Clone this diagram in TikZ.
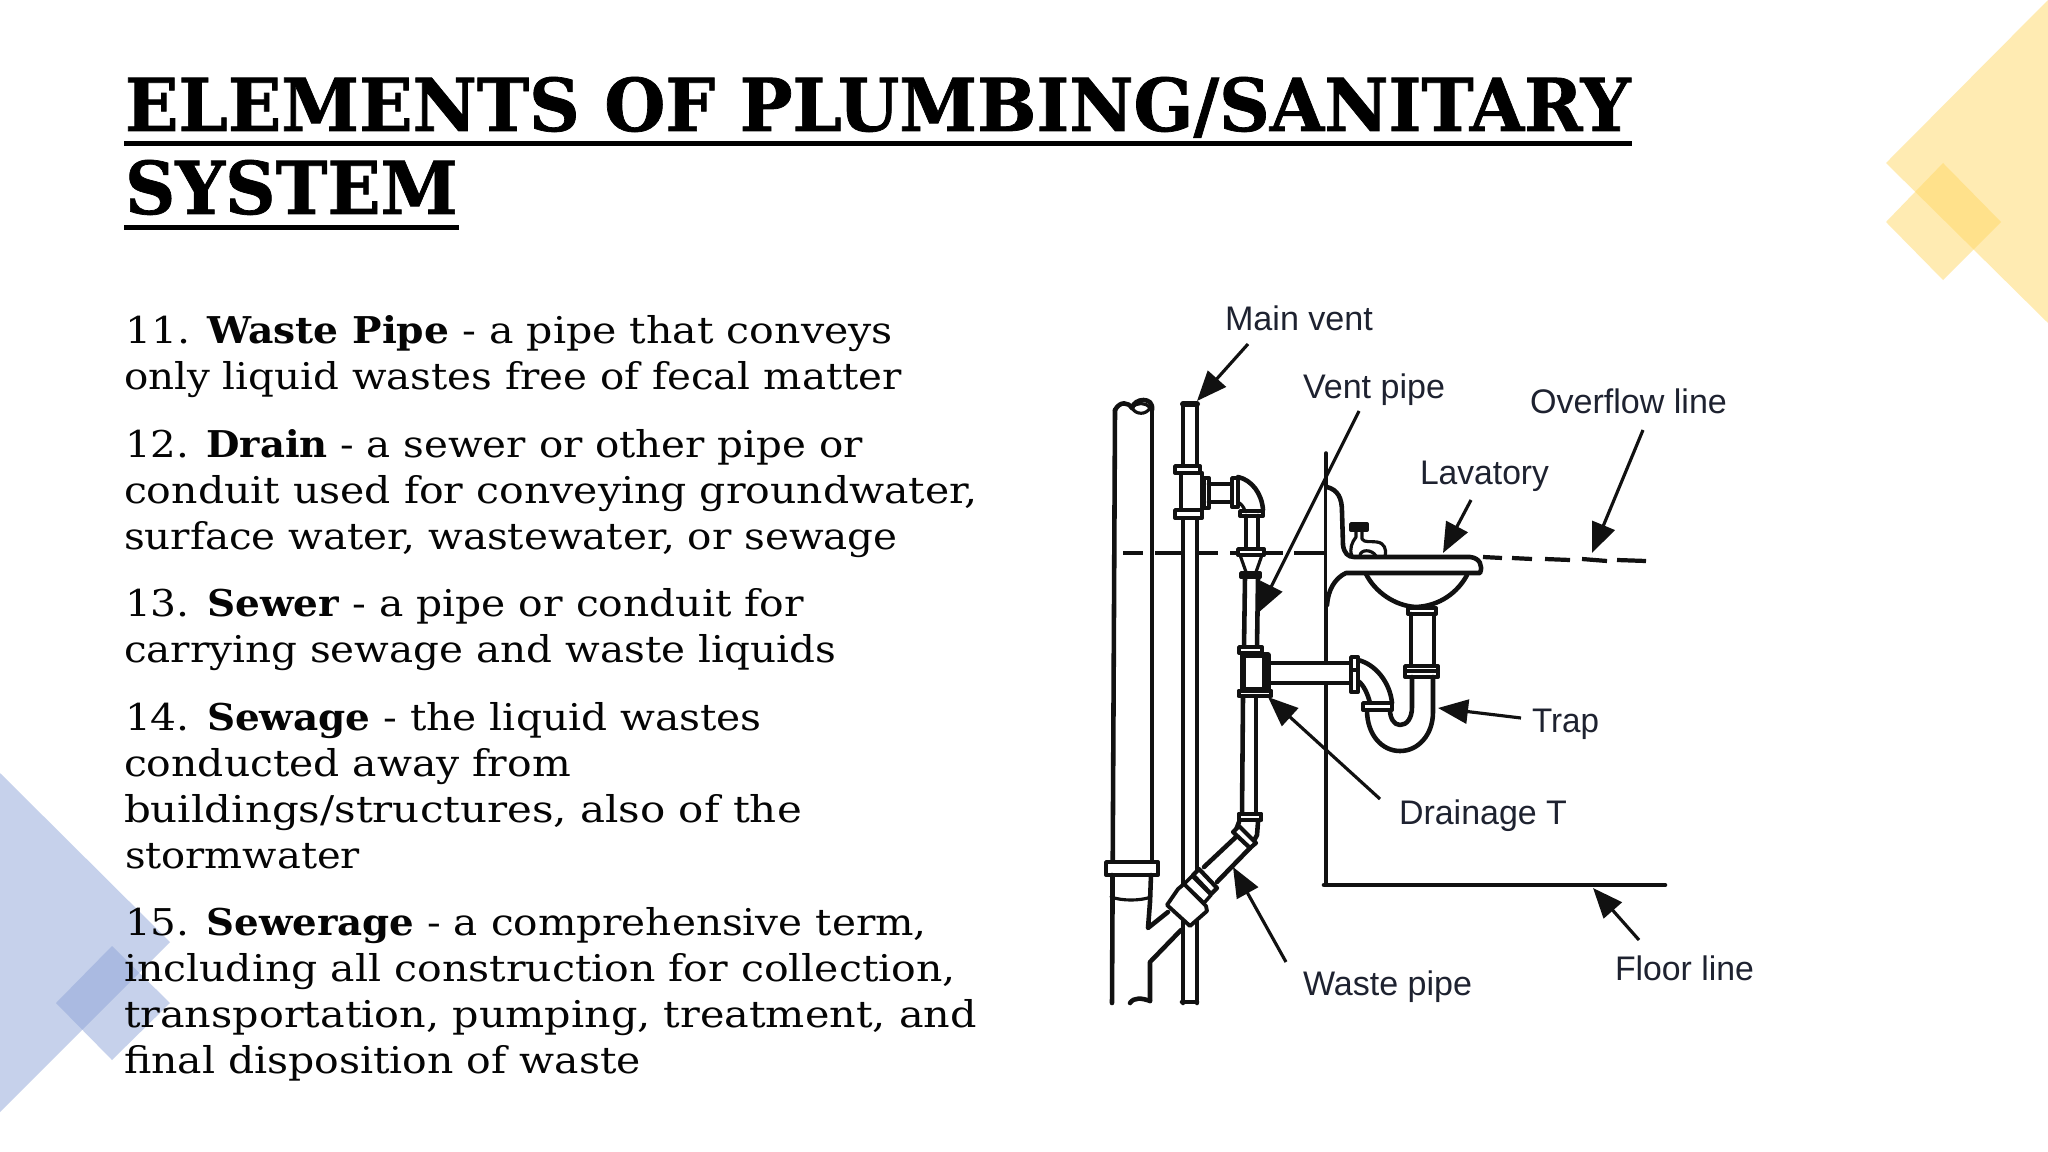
\documentclass[tikz,border=0pt]{standalone}
\usepackage{fontspec}
\usepackage{graphicx}
\usetikzlibrary{arrows.meta}
\setmainfont{DejaVu Serif}
\newfontfamily\lblfont{Liberation Sans}
\newfontfamily\ttlfont[BoldFeatures={FakeBold=1}]{DejaVu Serif}
\definecolor{inkc}{HTML}{111111}
\definecolor{textc}{HTML}{050505}
\definecolor{lblc}{HTML}{1E2230}
\definecolor{yel}{HTML}{FFD966}
\definecolor{blu}{HTML}{8FA5D8}
\newsavebox\fitbox
\newcommand\fitw[2]{\sbox\fitbox{#2}\pgfmathsetmacro\fitr{#1*0.56906/\wd\fitbox}\scalebox{\fitr}[1]{\usebox\fitbox}}
\newcommand\bld[1]{\scalebox{0.955}[1]{\textbf{#1}}}
\tikzset{
  x=0.02cm,y=-0.02cm,
  pipe/.style={line width=1.8pt,draw=inkc,line cap=round,line join=round},
  heavy/.style={line width=2.6pt,draw=inkc,line cap=round,line join=round},
  solid fit/.style={pipe,fill=white},
  bandbox/.style={line width=2.2pt,draw=inkc,fill=white,line join=round},
  ptr/.style={line width=1.8pt,draw=inkc,-{Triangle[length=0.6cm,width=0.48cm,fill=inkc]},shorten >=0pt},
  dashseg/.style={line width=2.4pt,draw=inkc},
  txt/.style={anchor=base west,inner sep=0pt,outer sep=0pt,text=textc,font=\fontsize{21pt}{25pt}\selectfont},
  ttl/.style={anchor=base west,inner sep=0pt,outer sep=0pt,text=black,font=\fontsize{41.5pt}{48pt}\selectfont\ttlfont\bfseries},
  lbl/.style={anchor=base west,inner sep=0pt,outer sep=0pt,text=lblc,font=\fontsize{19.4pt}{23pt}\selectfont\lblfont},
  deco/.style={fill opacity=0.5,draw=none},
}
\begin{document}
\begin{tikzpicture}
\useasboundingbox (0,0) rectangle (2048,1152);
\fill[white] (0,0) rectangle (2048,1152);
% decoration
\fill[yel,deco] (2048,0) -- (1886,163) -- (2048,323) -- cycle;
\fill[yel,deco] (1886,222) -- (1943,163) -- (2001,222) -- (1943,280) -- cycle;
\fill[blu,deco] (0,773) -- (170,942) -- (0,1112) -- cycle;
\fill[blu,deco] (56,1003) -- (112,946) -- (170,1003) -- (112,1060) -- cycle;
% title
\node[ttl] (t1) at (125,131) {\fitw{1506}{ELEMENTS OF PLUMBING/SANITARY}};
\node[ttl] (t2) at (125,214) {\fitw{333}{SYSTEM}};
\fill[black] (124,141) rectangle (1632,146);
\fill[black] (124,225) rectangle (459,230);
% body
\node[txt] (b1) at (125,343) {\fitw{768}{11. \bld{Waste Pipe} - a pipe that conveys}};
\node[txt] (b2) at (124,389) {\fitw{778}{only liquid wastes free of fecal matter}};
\node[txt] (b3) at (125,457) {\fitw{738}{12. \bld{Drain} - a sewer or other pipe or}};
\node[txt] (b4) at (124,503) {\fitw{854}{conduit used for conveying groundwater,}};
\node[txt] (b5) at (124,549) {\fitw{774}{surface water, wastewater, or sewage}};
\node[txt] (b6) at (125,616) {\fitw{679}{13. \bld{Sewer} - a pipe or conduit for}};
\node[txt] (b7) at (124,662) {\fitw{712}{carrying sewage and waste liquids}};
\node[txt] (b8) at (125,730) {\fitw{637}{14. \bld{Sewage} - the liquid wastes}};
\node[txt] (b9) at (124,776) {\fitw{447}{conducted away from}};
\node[txt] (b10) at (124,822) {\fitw{678}{buildings/structures, also of the}};
\node[txt] (b11) at (125,868) {\fitw{235}{stormwater}};
\node[txt] (b12) at (125,935) {\fitw{802}{15. \bld{Sewerage} - a comprehensive term,}};
\node[txt] (b13) at (124,981) {\fitw{832}{including all construction for collection,}};
\node[txt] (b14) at (124,1027) {\fitw{853}{transportation, pumping, treatment, and}};
\node[txt] (b15) at (124,1073) {\fitw{517}{final disposition of waste}};
% wall and floor
\draw[heavy,line width=2pt] (1326,453) -- (1326,885);
\draw[heavy] (1324,885) -- (1665,885);
% stack
\draw[heavy] (1115,410) -- (1112,1003);
\draw[heavy] (1152,410) -- (1152,862);
\draw[heavy] (1115,410) .. controls (1120,401) and (1128,402) .. (1132,408);
\draw[heavy] (1132,408) .. controls (1134,398) and (1154,396) .. (1152,410);
\draw[pipe] (1132,408) .. controls (1136,415) and (1146,415) .. (1150,408) .. controls (1146,402) and (1136,402) .. (1132,408);
\draw[bandbox] (1106,862) rectangle (1158,875);
\draw[heavy] (1112,875) -- (1112,905);
\draw[pipe] (1111,897) .. controls (1122,901) and (1140,901) .. (1151,897);
\draw[heavy] (1151,875) -- (1150,902) -- (1148,928) -- (1168,912);
\draw[heavy] (1181,930) -- (1150,962) -- (1150,1001);
\draw[heavy] (1130,1003) .. controls (1134,997) and (1142,998) .. (1150,1001);
% main vent pipe
\draw[heavy] (1183,405) -- (1183,1003);
\draw[heavy] (1197,405) -- (1197,1003);
\draw[heavy,line width=3.4pt] (1183,404) -- (1197,404);
\draw[heavy] (1182,1002) -- (1197,1002);
% upper T fitting on vent
\draw[bandbox,line width=2.6pt] (1181,473) rectangle (1202,510);
\draw[bandbox] (1175,466) rectangle (1200,473);
\draw[bandbox] (1175,510) rectangle (1202,518);
% branch and elbow
\draw[bandbox] (1204,478) rectangle (1209,508);
\draw[heavy] (1209,484) -- (1233,484);
\draw[heavy] (1209,502) -- (1233,502);
\draw[bandbox] (1232,478) rectangle (1238,507);
\draw[heavy] (1238,477) .. controls (1252,480) and (1262,494) .. (1263,510);
\draw[pipe] (1238,502) .. controls (1241,504) and (1244,507) .. (1245,511);
\draw[bandbox] (1240,511) rectangle (1263,516);
\draw[heavy] (1246,516) -- (1246,548);
\draw[heavy] (1258,516) -- (1258,548);
% coupling
\draw[bandbox] (1238,549) rectangle (1264,555);
\draw[pipe] (1240,555) -- (1246,572);
\draw[pipe] (1262,555) -- (1256,572);
\draw[bandbox] (1241,573) rectangle (1260,577);
\draw[heavy] (1245,577) -- (1244,648);
\draw[heavy] (1258,577) -- (1257,648);
% lower T fitting
\draw[bandbox] (1239,647) rectangle (1262,653);
% horizontal drain
\path[fill=white] (1268,663) rectangle (1350,683);
\draw[heavy] (1268,663) -- (1350,663);
\draw[heavy] (1268,683) -- (1350,683);
\draw[bandbox,line width=3pt] (1243,655) rectangle (1268,690);
\draw[pipe] (1264,656) -- (1264,689);
\draw[bandbox,line width=2.8pt] (1239,691) rectangle (1271,696);
\draw[heavy] (1243,697) -- (1242,814);
\draw[heavy] (1256,697) -- (1256,814);
\draw[bandbox,line width=2.8pt] (1239,814) rectangle (1261,820);
% wye
\path[fill=white] (1237,836) -- (1204,867) -- (1217,882) -- (1250,848) -- cycle;
\draw[heavy] (1237,836) -- (1204,867);
\draw[heavy] (1250,848) -- (1217,882);
\draw[heavy] (1239,822) -- (1236,830);
\draw[heavy] (1258,822) -- (1257,835) -- (1250,848);
\draw[bandbox,line width=2.4pt] (1233,832) -- (1239,826) -- (1256,843) -- (1250,848) -- cycle;
\draw[bandbox,line width=2.4pt] (1193,875) -- (1199,869) -- (1217,888) -- (1211,894) -- cycle;
\draw[solid fit,line width=2pt] (1184,884) -- (1192,876) -- (1211,895) -- (1204,903) -- cycle;
\draw[solid fit,line width=2.2pt] (1178,889) -- (1184,884) -- (1206,906) -- (1207,911) -- (1190,926) -- (1167,905) -- cycle;
% lavatory
\path[fill=white] (1327,487) .. controls (1338,490) and (1342,498) .. (1342,512) -- (1343,545) .. controls (1344,553) and (1348,557) .. (1354,557) -- (1470,557) .. controls (1480,558) and (1483,566) .. (1480,573) -- (1363,573) -- (1346,574) .. controls (1335,580) and (1328,590) .. (1327,605) -- cycle;
\draw[heavy] (1327,487) .. controls (1338,490) and (1342,498) .. (1342,512) -- (1343,545) .. controls (1344,553) and (1348,557) .. (1354,557) -- (1470,557) .. controls (1480,558) and (1483,566) .. (1480,573) -- (1346,573) .. controls (1335,578) and (1328,590) .. (1327,605);
% basin
\draw[heavy] (1366,574) .. controls (1375,592) and (1395,606) .. (1416,607) .. controls (1440,606) and (1458,592) .. (1467,575);
\draw[bandbox] (1408,608) rectangle (1436,614);
\draw[heavy] (1411,614) -- (1411,665);
\draw[heavy] (1434,614) -- (1434,665);
\draw[bandbox] (1405,666) rectangle (1438,677);
\draw[pipe] (1405,671) -- (1438,671);
% trap
\draw[heavy] (1433,677) -- (1433,712) .. controls (1433,735) and (1418,751) .. (1400,751) .. controls (1382,751) and (1367,735) .. (1367,710);
\draw[heavy] (1412,677) -- (1412,707) .. controls (1412,718) and (1407,725) .. (1400,725) .. controls (1394,725) and (1390,718) .. (1390,710);
% elbow to trap
\draw[heavy] (1358,660) .. controls (1375,664) and (1390,682) .. (1392,703);
\draw[heavy] (1358,681) .. controls (1364,685) and (1368,695) .. (1370,703);
\draw[bandbox,line width=2.2pt] (1351,657) rectangle (1358,692);
\draw[pipe] (1351,670) -- (1358,670);
\draw[bandbox] (1363,703) rectangle (1392,710);
% faucet
\draw[bandbox,fill=inkc] (1351,524) rectangle (1367,530);
\draw[pipe] (1356,530) -- (1356,537) .. controls (1352,542) and (1349,549) .. (1352,556);
\draw[pipe] (1362,530) -- (1362,539) .. controls (1364,543) and (1372,541) .. (1377,542) .. controls (1384,543) and (1387,549) .. (1385,556);
\draw[pipe] (1360,556) .. controls (1360,549) and (1372,549) .. (1376,556);
% overflow line
\draw[dashseg] (1123,553) -- (1143,553);
\draw[dashseg] (1155,553) -- (1181,553);
\draw[dashseg] (1198,553) -- (1218,553);
\draw[dashseg] (1230,553) -- (1239,553);
\draw[dashseg] (1264,553) -- (1283,553);
\draw[dashseg] (1294,553) -- (1325,553);
\draw[dashseg] (1483,557) -- (1502,558);
\draw[dashseg] (1512,558) -- (1532,559);
\draw[dashseg] (1545,559) -- (1570,560);
\draw[dashseg] (1582,559) -- (1607,561);
\draw[dashseg] (1617,560) -- (1646,561);
% labels
\node[lbl] (lmv) at (1225,330) {\fitw{148}{Main vent}};
\node[lbl] (lvp) at (1303,398) {\fitw{142}{Vent pipe}};
\node[lbl] (lof) at (1530,413) {\fitw{197}{Overflow line}};
\node[lbl] (llv) at (1420,484) {\fitw{129}{Lavatory}};
\node[lbl] (ltr) at (1532,732) {\fitw{67}{Trap}};
\node[lbl] (ldt) at (1399,824) {\fitw{168}{Drainage T}};
\node[lbl] (lwp) at (1303,995) {\fitw{169}{Waste pipe}};
\node[lbl] (lfl) at (1615,980) {\fitw{139}{Floor line}};
% arrows
\coordinate (a1s) at (1248,344); \coordinate (a1e) at (1197,401);
\coordinate (a2s) at (1359,411); \coordinate (a2e) at (1258,613);
\coordinate (a3s) at (1471,500); \coordinate (a3e) at (1443,553);
\coordinate (a4s) at (1643,430); \coordinate (a4e) at (1592,553);
\coordinate (a5s) at (1521,718); \coordinate (a5e) at (1438,708);
\coordinate (a6s) at (1380,799); \coordinate (a6e) at (1268,697);
\coordinate (a7s) at (1286,962); \coordinate (a7e) at (1233,867);
\coordinate (a8s) at (1639,940); \coordinate (a8e) at (1593,888);
\draw[ptr] (a1s) -- (a1e);
\draw[ptr] (a2s) -- (a2e);
\draw[ptr] (a3s) -- (a3e);
\draw[ptr] (a4s) -- (a4e);
\draw[ptr] (a5s) -- (a5e);
\draw[ptr] (a6s) -- (a6e);
\draw[ptr] (a7s) -- (a7e);
\draw[ptr] (a8s) -- (a8e);
\end{tikzpicture}
\end{document}
